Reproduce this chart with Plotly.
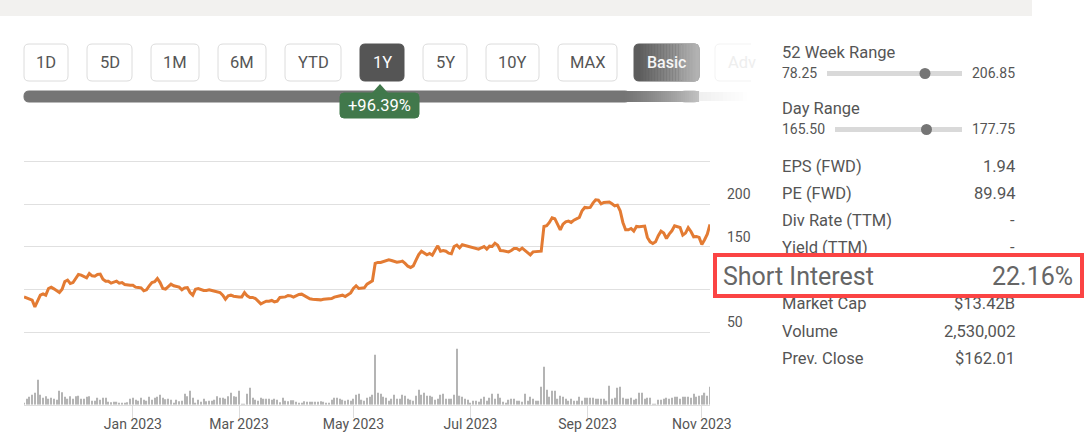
import pandas as pd
import plotly.graph_objects as go

W = 1086
H = 441

holidays = ['2022-11-24', '2022-12-26', '2023-01-02', '2023-01-16', '2023-02-20',
            '2023-04-07', '2023-05-29', '2023-06-19', '2023-07-04', '2023-09-04']
days = [d.strftime('%Y-%m-%d') for d in pd.bdate_range('2022-11-03', '2023-11-06')
        if d.strftime('%Y-%m-%d') not in holidays]

price = [
    91.2, 89.7, 88.9, 87.3, 79.5, 86.5, 93.2, 94.8, 93.2, 101,
    102.6, 100.6, 97.9, 96.3, 100.2, 109.2, 110.8, 106.9, 108, 113.5,
    117.5, 116.7, 114.7, 113.5, 118.6, 115.9, 115.5, 117.5, 117.9, 112,
    109.6, 109.6, 107.3, 108.9, 109.6, 107.3, 108, 105.7, 104.9, 104.9,
    104.9, 102.6, 102.2, 101.8, 98.3, 99.5, 104.2, 108, 108.9, 112.8,
    108, 101, 100.2, 103.4, 106.1, 104.2, 103.4, 102.6, 99.5, 101.8,
    102.2, 96.3, 93.2, 100.2, 101, 99.5, 98.7, 98.7, 99.5, 98.7,
    97.9, 97.5, 96.3, 93.2, 88.5, 92.4, 93.2, 92, 91.2, 91.2,
    91.2, 96.3, 92.4, 90.5, 90.5, 89.3, 86.2, 83, 84.6, 86.2,
    86.2, 87, 85.4, 86.2, 90.5, 90.5, 91.2, 92.8, 92.4, 90.9,
    92.4, 94, 94.4, 92.8, 90.9, 88.9, 88.5, 88.1, 87.7, 87.7,
    88.5, 88.5, 88.9, 89.3, 90.9, 91.6, 92, 93.2, 91.6, 93.6,
    95.9, 101, 104.2, 101, 101.4, 101.8, 106.1, 108, 110, 130.4,
    131.6, 131.6, 132.7, 133.9, 134.7, 133.9, 132.7, 131.9, 132.3, 133.1,
    130.4, 127.2, 125.7, 127.6, 134.3, 140.9, 144.8, 142.5, 140.5, 142.1,
    140.1, 146, 151.1, 144.8, 145.6, 144.8, 142.5, 141.7, 150.3, 151.9,
    148.8, 152.3, 151.5, 150.7, 150.3, 149.5, 148.8, 147.2, 148.8, 150.3,
    147.2, 150.7, 150.3, 154.2, 151.9, 145.6, 145.2, 144.4, 144, 145.6,
    148, 148, 146, 148.4, 145.6, 143.3, 140.5, 144, 144.4, 144.4,
    144.8, 173.8, 174.6, 178.5, 184, 183, 176.5, 169.9, 176.5, 179.3,
    180.1, 178.5, 181.2, 183.2, 184.4, 192.2, 196.1, 195.7, 196.1, 201.2,
    205.1, 204.7, 200.4, 202, 202, 202.4, 200.4, 198, 198.8, 192.2,
    178.5, 169.9, 169.9, 171.4, 168.3, 173.8, 173.4, 173.4, 174.2, 160.9,
    155.8, 153.8, 155.8, 162.9, 168.3, 166, 159.7, 164.8, 168.7, 174.6,
    173.4, 172.6, 163.6, 166, 172.3, 167.9, 161.7, 162.1, 160.9, 152.7,
    158.2, 164.8, 176.2,
]

volume = [
    1.5, 6, 8, 10, 12, 25, 10, 7, 8.5, 6,
    7, 6, 5, 14, 12.5, 8, 6, 8.5, 6, 8.5,
    9, 6, 6, 8, 8.5, 4, 4, 7, 5, 7,
    7, 3, 2.5, 3, 3, 2, 2, 1.5, 2.5, 6,
    7, 5, 4, 7, 5, 4, 8, 5, 7, 8,
    10, 7, 5.5, 6, 5, 2, 5, 3.5, 4, 11,
    8.5, 14, 7, 2, 5, 3, 6, 3.5, 4, 4,
    5, 8.5, 7, 7, 6, 8.5, 12, 8.5, 8, 14,
    1, 1, 11, 17, 7, 5, 4, 7, 6, 6,
    6, 5, 6, 5, 2.5, 7, 4, 3.5, 4.5, 4.5,
    3, 2, 1.5, 3.5, 3, 3, 3, 3, 3, 3.5,
    3, 2, 1.5, 5, 7, 7, 6, 5, 4, 5,
    4, 6, 10, 11, 5, 4, 7, 8, 10, 50,
    12, 11, 8, 7, 4, 6, 10, 6, 6, 10,
    9, 6, 5, 4, 9, 15, 10, 12, 9, 9,
    8, 5, 6, 10, 11, 6, 6, 6, 10, 56,
    9, 8, 6, 5, 2, 4, 4, 3, 6, 8,
    4, 7, 11, 6, 11, 7, 3, 2, 5, 6,
    6, 4, 4, 3, 11, 4, 8, 6, 4, 4,
    18, 38, 15, 8, 14, 14, 6, 9, 8, 6,
    4, 6, 4, 4, 8, 4, 7, 7, 7, 7,
    6, 6, 6, 6, 4, 19, 6, 7, 17, 18,
    7, 6, 6, 7, 5, 6, 12, 12, 6, 7,
    7, 0.3, 0.3, 5, 5, 6, 7, 6, 7, 8,
    8, 6, 8, 8, 8, 7, 11, 8, 9, 9.5,
    12, 9, 18,
]

tick_days = ['2023-01-03', '2023-03-01', '2023-05-01', '2023-07-03', '2023-09-01', '2023-11-01']
tick_labels = ['Jan 2023', 'Mar 2023', 'May 2023', 'Jul 2023', 'Sep 2023', 'Nov 2023']
price_ticks = [50, 100, 150, 200, 250]
price_tick_labels = ['50', '100', '150', '200', '']

button_names = ['1D', '5D', '1M', '6M', 'YTD', '1Y', '5Y', '10Y', 'MAX']
button_left = [24, 87, 151, 218, 285, 360, 423, 486, 558]
button_right = [68, 132, 199, 266, 341, 404, 467, 539, 617]

stat_names = ['EPS (FWD)', 'PE (FWD)', 'Div Rate (TTM)', 'Yield (TTM)', 'Market Cap', 'Volume', 'Prev. Close']
stat_values = ['1.94', '89.94', '-', '-', '$13.42B', '2,530,002', '$162.01']
stat_y = [166, 193, 221, 247, 303, 331, 358]

FONT = 'Roboto'
TEXT = '#555555'


def px(x):
    return x / W


def py(y):
    return 1 - y / H


def rounded(x0, y0, x1, y1, r):
    xa, xb = px(x0), px(x1)
    ya, yb = py(y0), py(y1)
    rx, ry = r / W, r / H
    return (f'M{xa + rx},{ya} L{xb - rx},{ya} Q{xb},{ya} {xb},{ya - ry} '
            f'L{xb},{yb + ry} Q{xb},{yb} {xb - rx},{yb} '
            f'L{xa + rx},{yb} Q{xa},{yb} {xa},{yb + ry} '
            f'L{xa},{ya - ry} Q{xa},{ya} {xa + rx},{ya} Z')


def box(x0, y0, x1, y1, fill, layer='below'):
    return dict(type='rect', xref='paper', yref='paper', x0=px(x0), x1=px(x1), y0=py(y1), y1=py(y0),
                fillcolor=fill, line_width=0, layer=layer)


def round_box(x0, y0, x1, y1, r, fill, line=None):
    return dict(type='path', xref='paper', yref='paper', path=rounded(x0, y0, x1, y1, r),
                fillcolor=fill, line=dict(color=line or fill, width=1), layer='below')


def label(x, y, text, size=15, color=TEXT, anchor='left', weight=400):
    # annotations carry a little padding, take it back so x is where the ink starts
    nudge = {'left': -2.5, 'right': 2, 'center': 0}[anchor]
    return dict(xref='paper', yref='paper', x=px(x + nudge), y=py(y), text=text, showarrow=False,
                xanchor=anchor, yanchor='middle', font=dict(family=FONT, size=size, color=color, weight=weight))


def mix(a, b, t):
    return 'rgb(%d,%d,%d)' % tuple(round(a[k] + (b[k] - a[k]) * t) for k in range(3))


shapes = [box(0, 0, 1032, 16, '#f2f1ef')]
annotations = []

# range buttons
for name, left, right in zip(button_names, button_left, button_right):
    active = name == '1Y'
    shapes.append(round_box(left, 44, right, 81, 5, '#555555' if active else '#ffffff',
                            '#555555' if active else '#dcdcdc'))
    annotations.append(label((left + right) / 2, 62.5, name, 16.5, '#ffffff' if active else TEXT, 'center'))

# basic / advanced toggle
shapes.append(round_box(634, 44, 699, 81, 5, '#5c5c5c'))
shapes.append(round_box(680, 44, 699, 81, 5, '#b2b2b2'))
for k in range(40):
    x = 638 + k * 1.5
    shapes.append(box(x, 44, x + 1.6, 81, mix((92, 92, 92), (178, 178, 178), k / 39)))
annotations.append(label(666.5, 62.5, 'Basic', 16, '#f6f6f6', 'center', weight=500))
shapes.append(dict(type='path', xref='paper', yref='paper',
                   path=f'M{px(751)},{py(44)} L{px(720)},{py(44)} Q{px(715)},{py(44)} {px(715)},{py(49)} '
                        f'L{px(715)},{py(76)} Q{px(715)},{py(81)} {px(720)},{py(81)} L{px(751)},{py(81)}',
                   line=dict(color='#f3f3f3', width=1), layer='below'))
annotations.append(label(728, 62.5, 'Adv', 16.5, '#eeeeee'))

# progress bar, fading out to the right
shapes.append(round_box(24, 91, 630, 102, 5, '#757575'))
shapes.append(round_box(680, 91, 699, 102, 5, '#c0c0c0'))
for k in range(38):
    x = 623 + k * 2
    shapes.append(box(x, 91, x + 2.1, 102, mix((117, 117, 117), (192, 192, 192), (k / 37) ** 1.3)))
for k in range(13):
    x = 699 + k * 4
    shapes.append(box(x, 92, x + 4.1, 101, mix((240, 240, 240), (255, 255, 255), k / 12)))

# change badge
shapes.append(round_box(340, 93, 419, 118, 4, '#41784b'))
shapes.append(dict(type='path', xref='paper', yref='paper', fillcolor='#41784b', line_width=0, layer='below',
                   path=f'M{px(372)},{py(93)} L{px(380)},{py(84)} L{px(388)},{py(93)} Z'))
annotations.append(label(379.5, 105, '+96.39%', 16.5, '#ffffff', 'center'))

# range sliders on the right
annotations.append(label(782, 53, '52 Week Range', 16.5))
annotations.append(label(782, 73, '78.25', 14))
annotations.append(label(1015, 73, '206.85', 14, anchor='right'))
shapes.append(box(827, 71, 962, 76, '#d9d9d9'))
shapes.append(dict(type='circle', xref='paper', yref='paper', x0=px(919.5), x1=px(930.5), y0=py(79), y1=py(68),
                   fillcolor='#757575', line_width=0, layer='below'))
annotations.append(label(782, 109, 'Day Range', 16.5))
annotations.append(label(782, 129, '165.50', 14))
annotations.append(label(1015, 129, '177.75', 14, anchor='right'))
shapes.append(box(835, 127, 962, 132, '#d9d9d9'))
shapes.append(dict(type='circle', xref='paper', yref='paper', x0=px(921), x1=px(932), y0=py(135), y1=py(124),
                   fillcolor='#757575', line_width=0, layer='below'))

for name, value, y in zip(stat_names, stat_values, stat_y):
    annotations.append(label(782, y, name, 16.5))
    annotations.append(label(1015, y, value, 16.5, anchor='right'))

# highlighted row sits on top of its neighbours, so it has to be an annotation too
annotations.append(dict(xref='paper', yref='paper', x=px(898.5), y=py(275.5), text=' ', showarrow=False,
                        xanchor='center', yanchor='middle', width=363, height=37,
                        bgcolor='#ffffff', bordercolor='#fb4444', borderwidth=4, borderpad=0))
annotations.append(label(723, 276, 'Short Interest', 25, '#666666'))
annotations.append(label(1073, 276, '22.16%', 25, '#666666', 'right'))

fig = go.Figure()
fig.add_trace(go.Scatter(x=days, y=price, mode='lines', line=dict(color='#e37b33', width=3),
                         yaxis='y', xaxis='x', showlegend=False))
fig.add_trace(go.Bar(x=days, y=volume, marker=dict(color='#b4b4b4', line_width=0),
                     yaxis='y2', xaxis='x', showlegend=False))

fig.update_layout(
    width=W, height=H, autosize=False,
    margin=dict(l=0, r=0, t=0, b=0),
    paper_bgcolor='#ffffff', plot_bgcolor='rgba(0,0,0,0)',
    bargap=0.55,
    shapes=shapes, annotations=annotations,
    font=dict(family=FONT, size=14, color=TEXT),
    xaxis=dict(domain=[px(24), px(710)], type='category', range=[0, 252], anchor='y2', automargin=False,
               tickmode='array', tickvals=tick_days, ticktext=tick_labels,
               ticks='outside', ticklen=12, tickcolor='#dddddd', tickwidth=1, ticklabelstandoff=-6,
               showline=True, linecolor='#dddddd', showgrid=False,
               tickfont=dict(family=FONT, size=14, color=TEXT)),
    # domain runs a little past the 50 and 250 lines so both gridlines get drawn
    yaxis=dict(domain=[py(340.5), py(150)], range=[40.03, 263.49], side='right', anchor='x', automargin=False,
               tickmode='array', tickvals=price_ticks, ticktext=price_tick_labels,
               ticklabelposition='outside top', ticklabelstandoff=16,
               gridcolor='#e0e0e0', gridwidth=1.4, zeroline=False, showline=False, ticks='',
               tickfont=dict(family=FONT, size=14, color=TEXT)),
    yaxis2=dict(domain=[py(404.7), py(344.7)], range=[0, 60], anchor='x', visible=False, automargin=False),
)

fig.write_html('out.html', config=dict(displayModeBar=False),
               post_script="document.body.style.margin='0';document.documentElement.style.overflow='hidden';")
